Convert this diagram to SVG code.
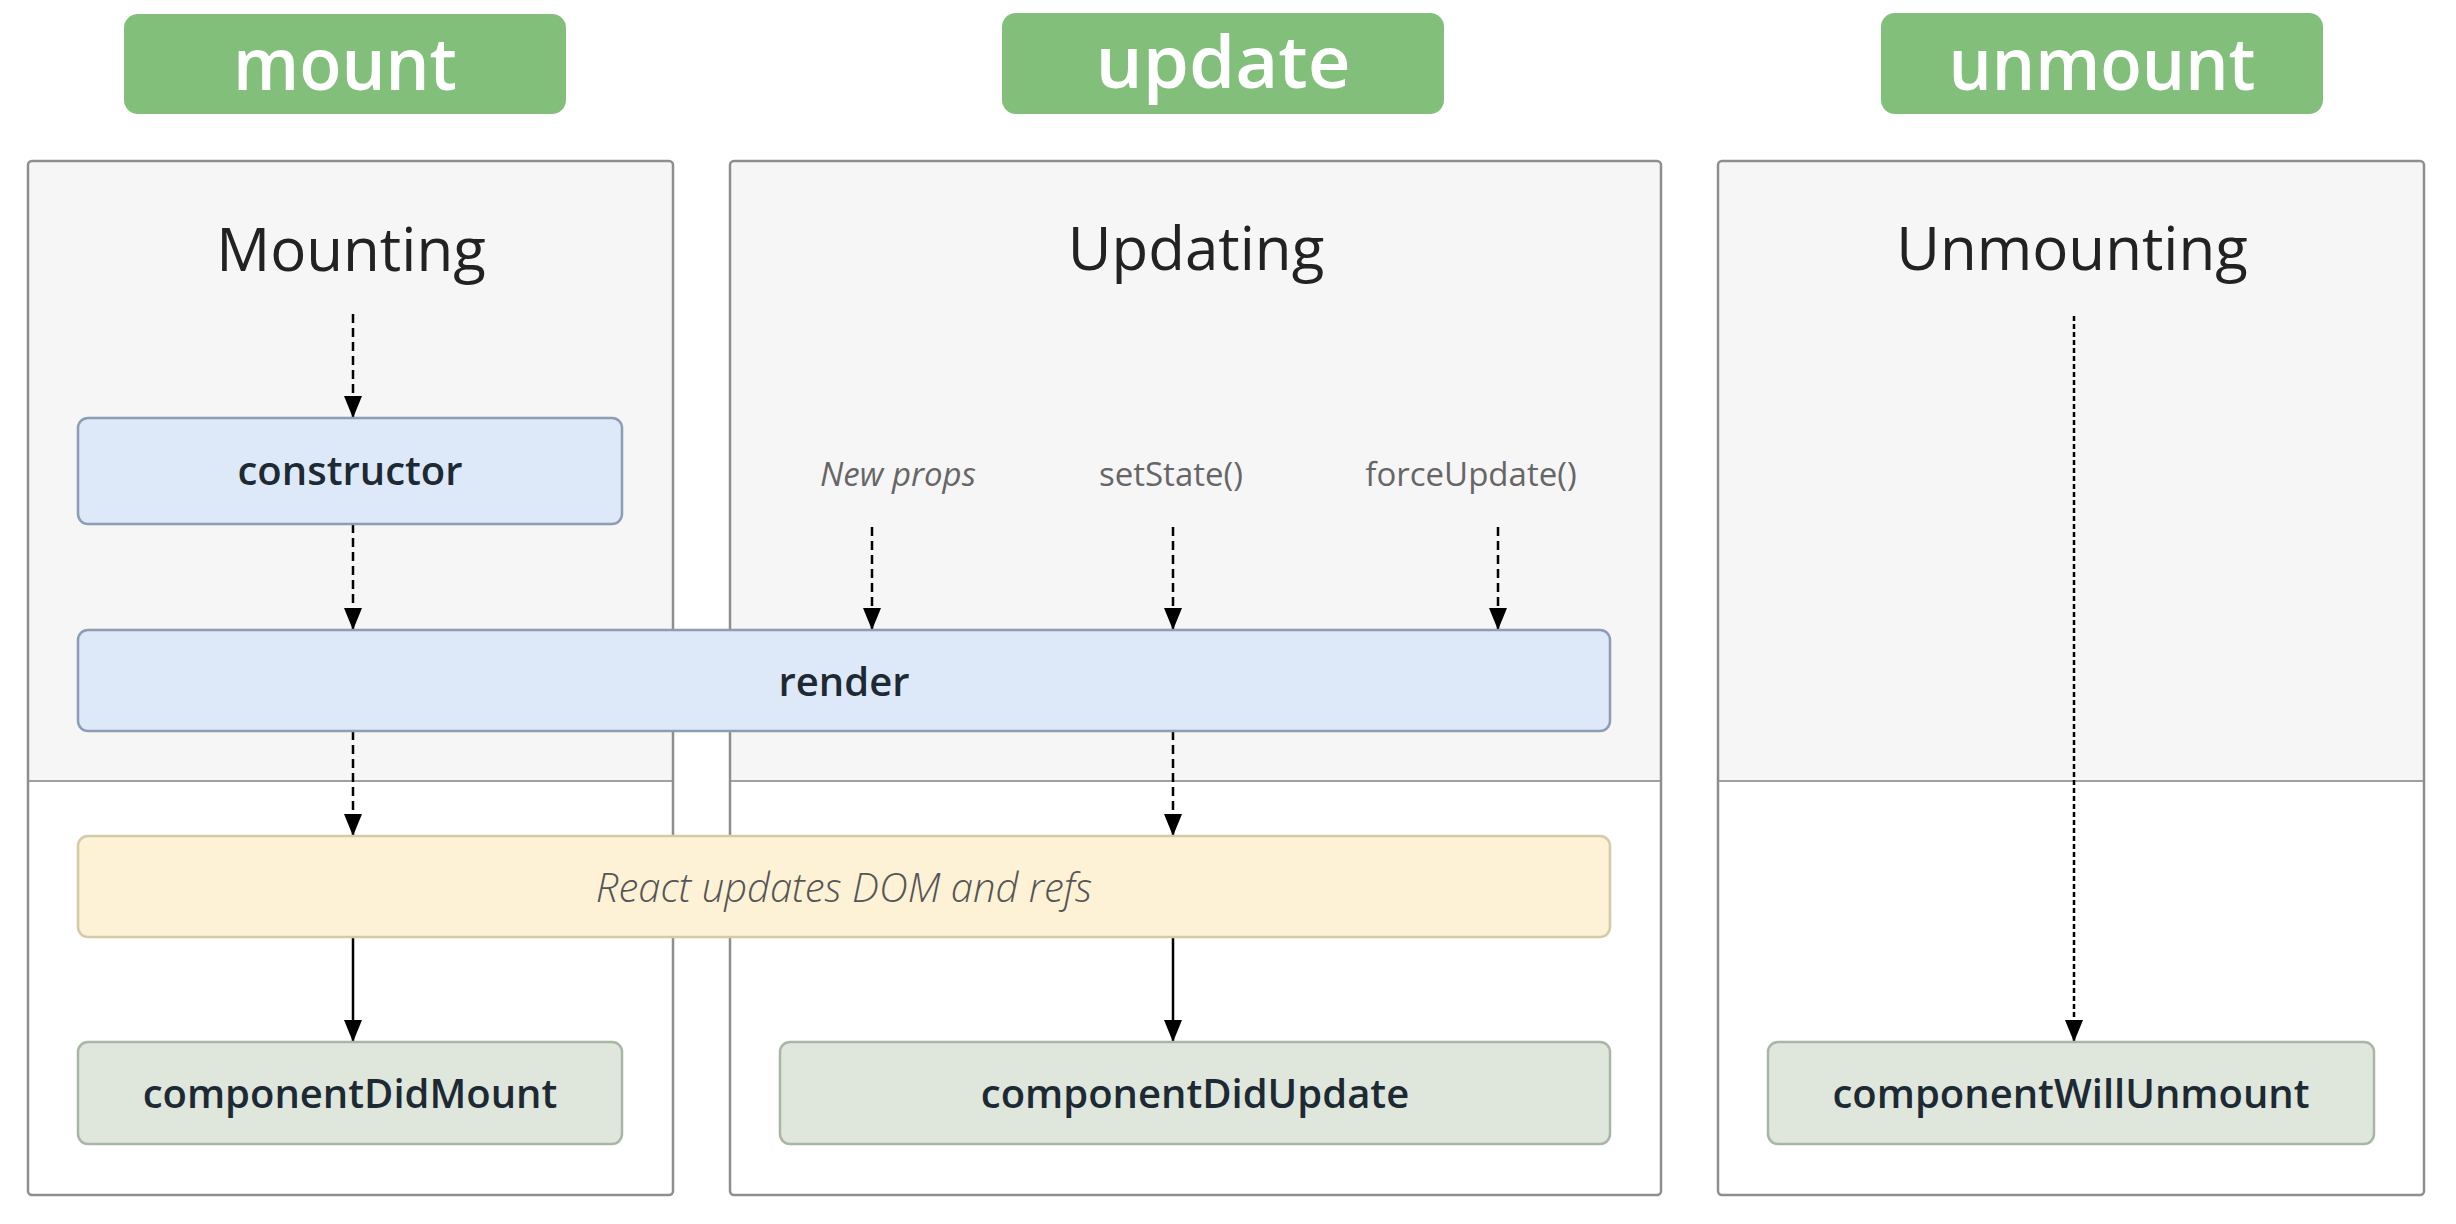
<svg xmlns="http://www.w3.org/2000/svg" width="2456" height="1224" viewBox="0 0 2456 1224">
<style>
.badge{fill:#81bf7b}
.badgeText{font-family:"Open Sans","Noto Sans",sans-serif;font-weight:600;font-size:72px;fill:#fff;text-anchor:middle}
.panelTop{fill:#f6f6f6}
.panelBorder{fill:none;stroke:#8e8e8e;stroke-width:2.5}
.divider{stroke:#a0a0a0;stroke-width:2}
.title{font-family:"Open Sans","Noto Sans",sans-serif;font-weight:400;font-size:60px;fill:#222;text-anchor:middle}
.blue{fill:#dde9f8;stroke:#8d9db3;stroke-width:2.5}
.yellow{fill:#fdf1d6;stroke:#d3caa6;stroke-width:2.5}
.green{fill:#dfe7dd;stroke:#a9b6a6;stroke-width:2.5}
.label{font-family:"Open Sans","Noto Sans",sans-serif;font-weight:600;font-size:40px;fill:#1e2a33;text-anchor:middle}
.italic{font-family:"Open Sans","Noto Sans",sans-serif;font-style:italic;font-weight:300;font-size:40px;fill:#555;text-anchor:middle}
.trigger{font-family:"Open Sans","Noto Sans",sans-serif;font-weight:400;font-size:33px;fill:#666;text-anchor:middle}
.dash{stroke:#000;stroke-width:2.5;stroke-dasharray:9 5;fill:none}
.dot{stroke:#000;stroke-width:2.5;stroke-dasharray:5 3;fill:none}
.solid{stroke:#000;stroke-width:2.5;fill:none}
</style>
<defs>
<marker id="arrow" viewBox="0 0 22 18" refX="22" refY="9" markerWidth="22" markerHeight="18" markerUnits="userSpaceOnUse" orient="auto">
<path d="M0,0 L22,9 L0,18 z" fill="#000"/>
</marker>
</defs>
<rect width="2456" height="1224" fill="#fff"/>

<g id="badge-mount">
<rect class="badge" x="124" y="14" width="442" height="100" rx="14"/>
<text class="badgeText" x="345" y="90" textLength="224" lengthAdjust="spacingAndGlyphs">mount</text>
</g>
<g id="badge-update">
<rect class="badge" x="1002" y="13" width="442" height="101" rx="14"/>
<text class="badgeText" x="1223" y="88" textLength="255" lengthAdjust="spacingAndGlyphs">update</text>
</g>
<g id="badge-unmount">
<rect class="badge" x="1881" y="13" width="442" height="101" rx="14"/>
<text class="badgeText" x="2102" y="90" textLength="307" lengthAdjust="spacingAndGlyphs">unmount</text>
</g>

<g id="panel-mounting">
<path class="panelTop" d="M28,781 V165 a4,4 0 0 1 4,-4 H669 a4,4 0 0 1 4,4 V781 z"/>
<line class="divider" x1="28" y1="781" x2="673" y2="781"/>
<rect class="panelBorder" x="28" y="161" width="645" height="1034" rx="4"/>
<text class="title" x="351" y="271">Mounting</text>
</g>
<g id="panel-updating">
<path class="panelTop" d="M730,781 V165 a4,4 0 0 1 4,-4 H1657 a4,4 0 0 1 4,4 V781 z"/>
<line class="divider" x1="730" y1="781" x2="1661" y2="781"/>
<rect class="panelBorder" x="730" y="161" width="931" height="1034" rx="4"/>
<text class="title" x="1196" y="270">Updating</text>
</g>
<g id="panel-unmounting">
<path class="panelTop" d="M1718,781 V165 a4,4 0 0 1 4,-4 H2420 a4,4 0 0 1 4,4 V781 z"/>
<line class="divider" x1="1718" y1="781" x2="2424" y2="781"/>
<rect class="panelBorder" x="1718" y="161" width="706" height="1034" rx="4"/>
<text class="title" x="2072" y="270">Unmounting</text>
</g>

<g id="triggers">
<text class="trigger" x="898" y="486" font-style="italic" fill="#777" font-size="34">New props</text>
<text class="trigger" x="1171" y="486">setState()</text>
<text class="trigger" x="1471" y="486">forceUpdate()</text>
</g>

<g id="connectors">
<line class="dash" x1="353" y1="314" x2="353" y2="418" marker-end="url(#arrow)"/>
<line class="dash" x1="353" y1="524" x2="353" y2="630" marker-end="url(#arrow)"/>
<line class="dash" x1="353" y1="731" x2="353" y2="836" marker-end="url(#arrow)"/>
<line class="solid" x1="353" y1="937" x2="353" y2="1042" marker-end="url(#arrow)"/>
<line class="dash" x1="872" y1="527" x2="872" y2="630" marker-end="url(#arrow)"/>
<line class="dash" x1="1173" y1="527" x2="1173" y2="630" marker-end="url(#arrow)"/>
<line class="dash" x1="1498" y1="527" x2="1498" y2="630" marker-end="url(#arrow)"/>
<line class="dash" x1="1173" y1="731" x2="1173" y2="836" marker-end="url(#arrow)"/>
<line class="solid" x1="1173" y1="937" x2="1173" y2="1042" marker-end="url(#arrow)"/>
<line class="dot" x1="2074" y1="316" x2="2074" y2="1042" marker-end="url(#arrow)"/>
</g>

<g id="node-constructor">
<rect class="blue" x="78" y="418" width="544" height="106" rx="10"/>
<text class="label" x="350" y="485">constructor</text>
</g>
<g id="node-render">
<rect class="blue" x="78" y="630" width="1532" height="101" rx="10"/>
<text class="label" x="844" y="696">render</text>
</g>
<g id="node-react-updates">
<rect class="yellow" x="78" y="836" width="1532" height="101" rx="10"/>
<text class="italic" x="844" y="902">React updates DOM and refs</text>
</g>
<g id="node-componentDidMount">
<rect class="green" x="78" y="1042" width="544" height="102" rx="10"/>
<text class="label" x="350" y="1108">componentDidMount</text>
</g>
<g id="node-componentDidUpdate">
<rect class="green" x="780" y="1042" width="830" height="102" rx="10"/>
<text class="label" x="1195" y="1108">componentDidUpdate</text>
</g>
<g id="node-componentWillUnmount">
<rect class="green" x="1768" y="1042" width="606" height="102" rx="10"/>
<text class="label" x="2071" y="1108">componentWillUnmount</text>
</g>
</svg>
